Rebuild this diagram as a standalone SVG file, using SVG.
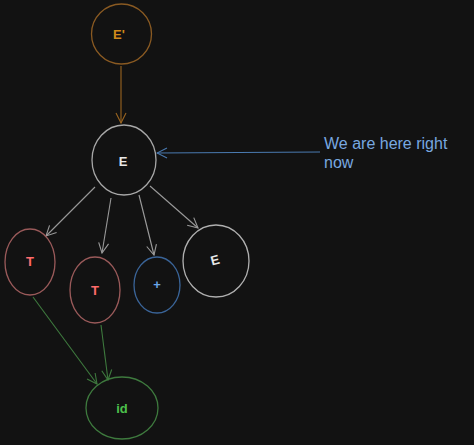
<svg xmlns="http://www.w3.org/2000/svg" width="474" height="445" viewBox="0 0 474 445">
<style>
.n{fill:none;stroke-width:1.3}
.t{font-family:"Liberation Sans",sans-serif;font-size:13px;font-weight:bold;text-anchor:middle;dominant-baseline:central}
.c{fill:none;stroke-width:1.1}
</style>
<defs>
<marker id="ag" viewBox="0 0 12 12" refX="11" refY="6" markerWidth="12" markerHeight="12" markerUnits="userSpaceOnUse" orient="auto"><path d="M1,1 L11,6 L1,11" fill="none" stroke="#9a9a9a" stroke-width="1.1"/></marker>
<marker id="ao" viewBox="0 0 12 12" refX="11" refY="6" markerWidth="12" markerHeight="12" markerUnits="userSpaceOnUse" orient="auto"><path d="M1,1 L11,6 L1,11" fill="none" stroke="#9a6420" stroke-width="1.1"/></marker>
<marker id="ab" viewBox="0 0 12 12" refX="11" refY="6" markerWidth="12" markerHeight="12" markerUnits="userSpaceOnUse" orient="auto"><path d="M1,1 L11,6 L1,11" fill="none" stroke="#4a7ab0" stroke-width="1.1"/></marker>
<marker id="agr" viewBox="0 0 12 12" refX="11" refY="6" markerWidth="12" markerHeight="12" markerUnits="userSpaceOnUse" orient="auto"><path d="M1,1 L11,6 L1,11" fill="none" stroke="#3e7a3e" stroke-width="1.1"/></marker>
</defs>
<rect width="474" height="445" fill="#121212"/>
<g id="connectors">
<line class="c" x1="121" y1="66" x2="121" y2="123" stroke="#9a6420" marker-end="url(#ao)"/>
<line class="c" x1="320" y1="152" x2="157" y2="153" stroke="#4a7ab0" marker-end="url(#ab)"/>
<line class="c" x1="95" y1="187" x2="46" y2="236" stroke="#9a9a9a" marker-end="url(#ag)"/>
<line class="c" x1="111" y1="198" x2="102" y2="253" stroke="#9a9a9a" marker-end="url(#ag)"/>
<line class="c" x1="139" y1="195" x2="154" y2="255" stroke="#9a9a9a" marker-end="url(#ag)"/>
<line class="c" x1="150" y1="186" x2="198" y2="228" stroke="#9a9a9a" marker-end="url(#ag)"/>
<line class="c" x1="33" y1="297" x2="97" y2="384" stroke="#3e7a3e" marker-end="url(#agr)"/>
<line class="c" x1="101" y1="325" x2="108" y2="380" stroke="#3e7a3e" marker-end="url(#agr)"/>
</g>
<g id="n-eprime"><ellipse class="n" cx="121.5" cy="34" rx="30" ry="30" stroke="#8a5a22"/><text class="t" x="119" y="34" fill="#d08a1a">E'</text></g>
<g id="n-e"><ellipse class="n" cx="124" cy="160" rx="32" ry="35" stroke="#a8a8a8"/><text class="t" x="123" y="161" fill="#e8e8e8">E</text></g>
<g id="n-t1"><ellipse class="n" cx="30" cy="262" rx="25" ry="33" stroke="#9a5a5a"/><text class="t" x="30" y="261" fill="#ff6b6b">T</text></g>
<g id="n-t2"><ellipse class="n" cx="95" cy="290" rx="25" ry="33" stroke="#9a5a5a"/><text class="t" x="95" y="290" fill="#ff6b6b">T</text></g>
<g id="n-plus"><ellipse class="n" cx="157" cy="285" rx="23" ry="28" stroke="#3a6498"/><text class="t" x="157" y="284" fill="#6aa6e8">+</text></g>
<g id="n-e2"><ellipse class="n" cx="216" cy="261" rx="33" ry="36" stroke="#b0b0b0"/><text class="t" x="215" y="260" fill="#e8e8e8" transform="rotate(-15 215 260)">E</text></g>
<g id="n-id"><ellipse class="n" cx="122" cy="408" rx="36" ry="31" stroke="#3e7a3e"/><text class="t" x="122" y="408" fill="#4cc04c">id</text></g>
<g id="label"><text font-family="Liberation Sans,sans-serif" font-size="16" fill="#78a8e0"><tspan x="324" y="149">We are here right</tspan><tspan x="324" y="168">now</tspan></text></g>
</svg>
